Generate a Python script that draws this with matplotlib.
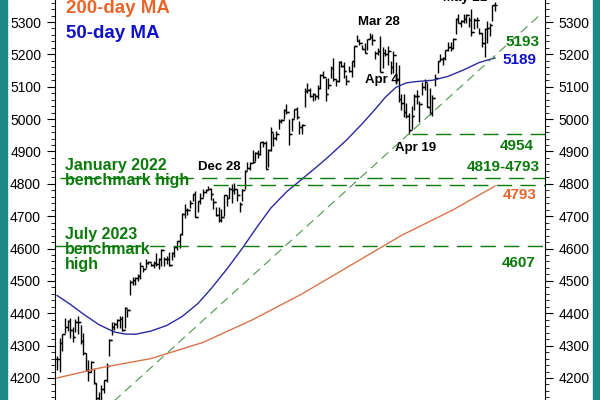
import matplotlib
matplotlib.use("Agg")
import matplotlib.pyplot as plt
from matplotlib.patches import Rectangle
import numpy as np

plt.rcParams["font.family"] = ["Liberation Sans", "DejaVu Sans"]

# daily S&P 500 bars, Oct 5 2023 .. Jun 6 2024
closes = [4258, 4308, 4336, 4358, 4377, 4349, 4328, 4374, 4373, 4314, 4278, 4224, 4218, 4248, 4186, 4137, 4117, 4167, 4194,
          4237, 4318, 4358, 4366, 4378, 4383, 4347, 4415, 4411, 4496, 4502, 4509, 4514, 4547, 4538, 4556, 4559, 4550, 4555, 4551, 4568,
          4595, 4569, 4567, 4549, 4586, 4604, 4622, 4644, 4707, 4720, 4719, 4741, 4768, 4698, 4746, 4755, 4775, 4781, 4783, 4770,
          4743, 4705, 4689, 4697, 4764, 4757, 4783, 4780, 4784, 4766, 4739, 4781, 4840, 4850, 4865, 4868, 4894, 4891, 4928, 4925, 4846,
          4906, 4959, 4943, 4954, 4995, 4998, 5027, 5022, 4953, 5001, 5030, 5006, 4976, 4982, 5087, 5089, 5070, 5078, 5070, 5096,
          5137, 5131, 5079, 5105, 5157, 5124, 5118, 5175, 5165, 5150, 5117, 5149, 5179, 5225, 5241, 5234, 5218, 5204, 5248, 5254,
          5243, 5205, 5211, 5147, 5204, 5202, 5209, 5161, 5199, 5123, 5061, 5051, 5022, 5011, 4967, 5010, 5070, 5072, 5048, 5100, 5116, 5036,
          5018, 5064, 5128, 5181, 5187, 5188, 5214, 5223, 5221, 5247, 5308, 5297, 5303, 5308, 5321, 5307, 5268, 5305, 5306, 5266, 5235, 5278,
          5283, 5291, 5354, 5352]
highs = [4268, 4324, 4336, 4385, 4378, 4386, 4357, 4383, 4393, 4364, 4339, 4276, 4255, 4254, 4232, 4183, 4157, 4178, 4194,
         4246, 4319, 4374, 4372, 4382, 4391, 4393, 4418, 4414, 4504, 4511, 4511, 4521, 4557, 4542, 4569, 4560, 4555, 4562, 4587, 4570,
         4599, 4575, 4578, 4590, 4590, 4609, 4623, 4644, 4709, 4739, 4726, 4749, 4769, 4779, 4748, 4773, 4785, 4785, 4793, 4788,
         4755, 4729, 4727, 4721, 4764, 4766, 4790, 4798, 4803, 4783, 4745, 4783, 4842, 4868, 4866, 4903, 4898, 4906, 4929, 4932, 4931,
         4907, 4975, 4957, 4963, 4999, 5000, 5030, 5048, 4999, 5002, 5032, 5038, 4994, 4984, 5097, 5111, 5097, 5080, 5077, 5105,
         5140, 5149, 5127, 5128, 5165, 5189, 5125, 5179, 5180, 5176, 5136, 5165, 5180, 5225, 5261, 5247, 5229, 5236, 5249, 5265,
         5264, 5209, 5220, 5256, 5222, 5216, 5225, 5178, 5211, 5175, 5168, 5078, 5077, 5050, 5020, 5039, 5076, 5089, 5057, 5114, 5124, 5111,
         5096, 5073, 5140, 5181, 5200, 5191, 5215, 5239, 5238, 5250, 5312, 5325, 5305, 5325, 5325, 5315, 5341, 5311, 5315, 5283, 5265, 5280,
         5302, 5298, 5354, 5362]
lows = [4226, 4219, 4284, 4339, 4345, 4325, 4311, 4343, 4337, 4304, 4270, 4223, 4190, 4220, 4181, 4127, 4103, 4132, 4153,
        4188, 4269, 4334, 4347, 4353, 4355, 4344, 4353, 4389, 4457, 4488, 4488, 4500, 4507, 4526, 4540, 4552, 4545, 4541, 4547, 4537,
        4547, 4545, 4551, 4547, 4565, 4575, 4594, 4601, 4643, 4694, 4704, 4725, 4746, 4697, 4714, 4738, 4758, 4771, 4780, 4751,
        4722, 4700, 4683, 4682, 4700, 4730, 4756, 4740, 4769, 4748, 4714, 4747, 4785, 4844, 4842, 4865, 4869, 4881, 4888, 4913, 4845,
        4853, 4902, 4918, 4935, 4969, 4988, 5000, 5017, 4920, 4964, 5004, 4999, 4955, 4953, 5038, 5081, 5068, 5057, 5058, 5061,
        5094, 5128, 5057, 5092, 5128, 5117, 5101, 5115, 5161, 5126, 5105, 5146, 5131, 5161, 5240, 5230, 5216, 5203, 5213, 5246,
        5229, 5185, 5197, 5147, 5158, 5194, 5166, 5138, 5141, 5107, 5053, 5028, 5008, 5002, 4954, 4969, 5027, 5047, 4991, 5074, 5089, 5036,
        5013, 5011, 5102, 5143, 5180, 5166, 5182, 5210, 5211, 5218, 5263, 5296, 5284, 5298, 5296, 5285, 5256, 5279, 5280, 5262, 5222, 5192,
        5234, 5257, 5302, 5335]

# moving averages (bar index, value)
ma50_x = [0, 5, 10, 16, 22, 26, 30, 36, 42, 48, 54, 59, 65, 71, 77, 82, 88, 94, 100, 105, 111, 117, 122, 126, 130, 134, 138, 144, 150, 156, 162, 168]
ma50_y = [4455, 4428, 4398, 4365, 4342, 4336, 4335, 4345, 4362, 4390, 4430, 4475, 4535, 4600, 4670, 4725, 4775, 4815, 4855, 4890, 4935, 4985, 5030, 5068, 5098, 5112, 5116, 5120, 5132, 5152, 5175, 5189]
ma200_x = [0, 17, 36, 56, 75, 94, 113, 132, 152, 168]
ma200_y = [4200, 4232, 4260, 4310, 4380, 4460, 4550, 4640, 4720, 4793]

trend_x = [20, 185]
trend_y = [4115, 5320]

GREEN = "#0a7a0a"
ORANGE = "#e8662a"
BLUE = "#1010c8"
TEAL = "#1b8a86"

fig = plt.figure(figsize=(6, 4), dpi=100)
ax = fig.add_axes([55 / 600, 0, 490 / 600, 1])
ax.set_xlim(-0.8, 187.2)
ax.set_ylim(4132, 5368)

n = len(closes)
xs = np.arange(n)
opens = [closes[0]] + closes[:-1]
ax.vlines(xs, lows, highs, color="black", lw=1)
ax.hlines(opens, xs - 0.9, xs, color="black", lw=1)
ax.hlines(closes, xs, xs + 0.9, color="black", lw=1)

ax.plot(ma50_x, ma50_y, color="#2a2aa0", lw=1)
ax.plot(ma200_x, ma200_y, color="#d9744a", lw=1)
ax.plot(trend_x, trend_y, color="#4a9a4a", lw=0.8, dashes=(8, 5))

dash = dict(color=GREEN, lw=1, dashes=(11, 6))
ax.plot([1, 187.2], [4819, 4819], **dash)
ax.plot([60, 187.2], [4797, 4797], **dash)
ax.plot([-0.8, 187.2], [4607, 4607], **dash)
ax.plot([136, 187.2], [4954, 4954], **dash)

for s in ("top", "bottom"):
    ax.spines[s].set_visible(False)
ax.set_xticks([])
ax.set_yticks(range(4200, 5301, 100))
ax.set_yticks(range(4140, 5361, 20), minor=True)
ax.tick_params(axis="y", which="both", left=True, right=True, labelleft=True,
               labelright=True, direction="out", labelsize=10, pad=4)
ax.tick_params(axis="y", which="major", length=6)
ax.tick_params(axis="y", which="minor", length=3)

def px(xp, yp, s, c, size, **kw):
    fig.text(xp / 600, 1 - yp / 400, s, color=c, fontsize=size, fontweight="bold",
             va="top", ha="left", **kw)

px(66, 0, "200-day MA", ORANGE, 13.5)
px(66, 25, "50-day MA", BLUE, 13.5)
px(65, 158, "January 2022\nbenchmark high", GREEN, 11.5, linespacing=1.0)
px(65, 227, "July 2023\nbenchmark\nhigh", GREEN, 11.5, linespacing=1.0)
px(198, 161, "Dec 28", "black", 9.5)
px(358, 16, "Mar 28", "black", 9.5)
px(365, 74, "Apr 4", "black", 9.5)
px(395, 142, "Apr 19", "black", 9.5)
px(443, -8, "May 21", "black", 9.5)
px(505, 35, "5193", GREEN, 11)
px(502, 53, "5189", BLUE, 11)
px(500, 139, "4954", GREEN, 11)
px(467, 160, "4819-4793", GREEN, 11)
px(503, 188, "4793", ORANGE, 11)
px(502, 256, "4607", GREEN, 11)

fig.patches.append(Rectangle((0, 0), 7 / 600, 1, transform=fig.transFigure,
                             color=TEAL, zorder=5))
fig.patches.append(Rectangle((593 / 600, 0), 7 / 600, 1, transform=fig.transFigure,
                             color=TEAL, zorder=5))

fig.savefig("out.png", dpi=100)
